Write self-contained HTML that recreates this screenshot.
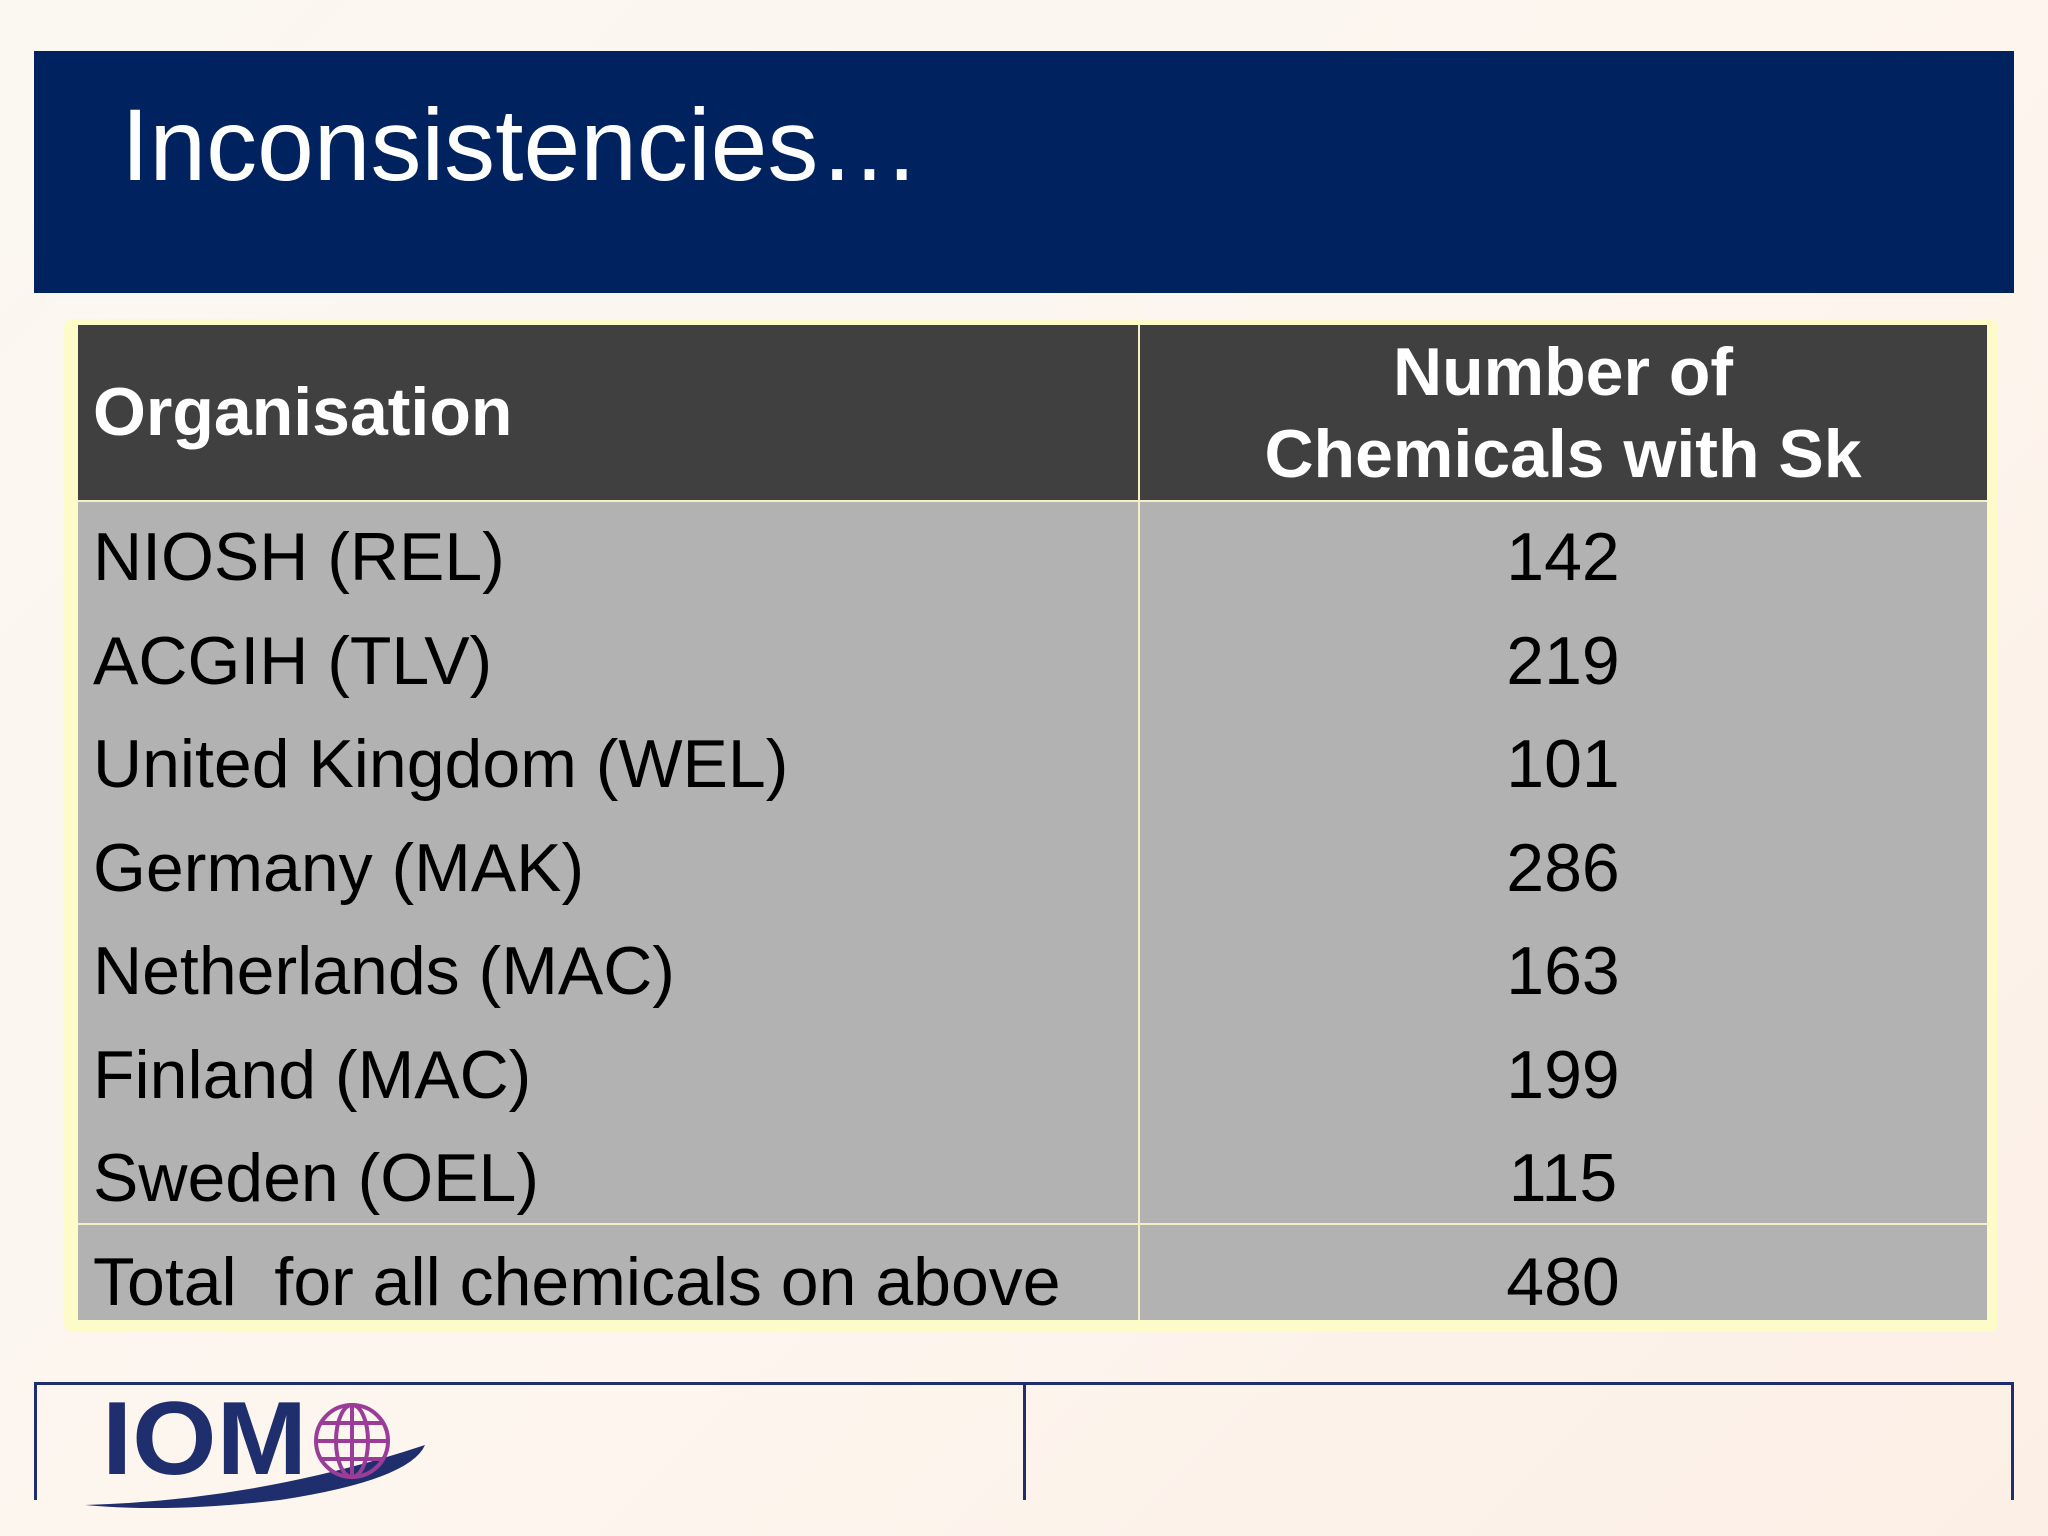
<!DOCTYPE html>
<html><head><meta charset="utf-8">
<style>
html,body{margin:0;padding:0}
body{width:2048px;height:1536px;position:relative;overflow:hidden;
background:linear-gradient(135deg,#fbf7f1 0%,#fdf6ef 50%,#fcefe6 100%);
font-family:"Liberation Sans",Arial,sans-serif}
.abs{position:absolute}
#titlebar{left:34px;top:51px;width:1980px;height:242px;background:#00225e}
#title{left:121px;top:85px;color:#fff;font-size:102px;line-height:120px;white-space:nowrap}
#glow{left:64px;top:319px;width:1934px;height:1013px;background:#fdfbc8;border-radius:8px}
#tbl{left:78px;top:325px;width:1909px;height:995px;background:#b2b2b2}
.cell{position:absolute;box-sizing:border-box;color:#000;font-size:68px;white-space:nowrap}
.hdr{background:#404040;color:#fff;font-weight:bold;font-size:68px}
.vline{position:absolute;background:#f3f0c8}
.nav{position:absolute;background:#1f2f6e}
</style></head><body>
<div class="abs" id="titlebar"></div>
<div class="abs" id="title">Inconsistencies…</div>
<div class="abs" id="glow"></div>
<div class="abs" id="tbl">
  <div class="cell hdr" style="left:0;top:0;width:1061px;height:175px;padding-left:15px;line-height:175px">Organisation</div>
  <div class="cell hdr" style="left:1061px;top:0;width:848px;height:175px;text-align:center;line-height:82px;padding-top:6px">Number of<br>Chemicals with Sk</div>
</div>
<div class="nav" style="left:34px;top:1382px;width:1980px;height:3px"></div>
<div class="nav" style="left:34px;top:1382px;width:3px;height:118px"></div>
<div class="nav" style="left:1023px;top:1382px;width:3px;height:118px"></div>
<div class="nav" style="left:2011px;top:1382px;width:3px;height:118px"></div>
<div class="abs" style="left:80px;top:1395px">
<svg width="360" height="120" viewBox="0 0 360 120">
  <path d="M5 110 Q180 105 345 50 Q330 85 200 105 Q90 118 5 110Z" fill="#1f2f6e"/>
  <text x="22" y="79" font-family="Liberation Sans" font-weight="bold" font-size="104" textLength="205" lengthAdjust="spacingAndGlyphs" fill="#1f2f6e">IOM</text>
  <g stroke="#9a3c98" stroke-width="4" fill="none">
    <circle cx="272" cy="46" r="36"/>
    <ellipse cx="272" cy="46" rx="16" ry="36"/>
    <line x1="272" y1="10" x2="272" y2="82"/>
    <line x1="236" y1="46" x2="308" y2="46"/>
    <line x1="242" y1="28" x2="302" y2="28"/>
    <line x1="242" y1="64" x2="302" y2="64"/>
  </g>
</svg></div>
<script>
const organisations=["NIOSH (REL)","ACGIH (TLV)","United Kingdom (WEL)","Germany (MAK)","Netherlands (MAC)","Finland (MAC)","Sweden (OEL)","Total  for all chemicals on above"];
const counts=["142","219","101","286","163","199","115","480"];
const tbl=document.getElementById('tbl');
const rowH=103.5, top0=175;
organisations.forEach((o,i)=>{
  const y=top0+i*rowH;
  const a=document.createElement('div');
  a.className='cell';
  a.style.cssText=`left:0;top:${y}px;width:1061px;height:${rowH}px;line-height:${rowH+12}px;padding-left:15px;white-space:pre`;
  a.textContent=o;
  
  
  tbl.appendChild(a);
  const b=document.createElement('div');
  b.className='cell';
  b.style.cssText=`left:1061px;top:${y}px;width:848px;height:${rowH}px;line-height:${rowH+12}px;text-align:center`;
  b.textContent=counts[i];
  
  
  tbl.appendChild(b);
});
[[175],[top0+7*rowH-2]].forEach(([y])=>{
  const l=document.createElement('div');
  l.className='vline';
  l.style.cssText=`left:0;top:${y}px;width:1909px;height:2px`;
  
  
  tbl.appendChild(l);
});
const v=document.createElement('div');
v.className='vline';
v.style.cssText='left:1060px;top:0;width:2px;height:995px';


tbl.appendChild(v);
</script>
</body></html>
